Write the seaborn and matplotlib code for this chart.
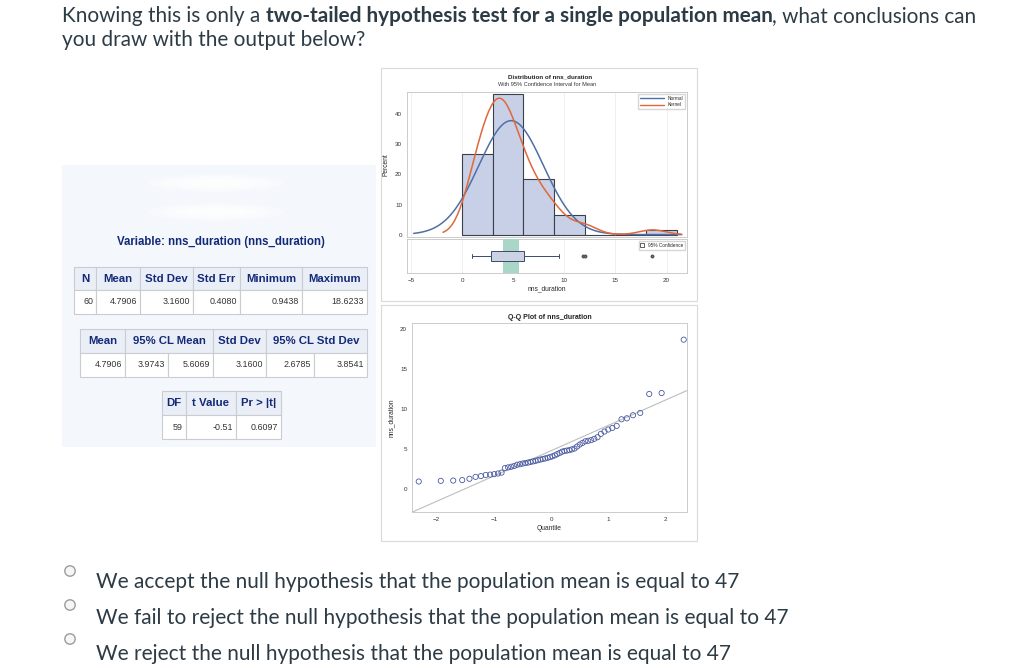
import matplotlib
matplotlib.use("Agg")
import matplotlib.pyplot as plt
from matplotlib.patches import Rectangle, Circle, Ellipse, Patch
from matplotlib.lines import Line2D
import numpy as np
import seaborn as sns
from statistics import NormalDist

# sorted nns_duration values (n = 60)
nns_duration = [
    0.94, 1.02, 1.06, 1.12, 1.28, 1.52, 1.62, 1.76, 1.80, 1.86,
    1.94, 2.05, 2.62, 2.70, 2.78, 2.88, 3.03, 3.10, 3.18, 3.24,
    3.30, 3.38, 3.45, 3.52, 3.60, 3.68, 3.75, 3.82, 3.90, 3.98,
    4.08, 4.20, 4.35, 4.50, 4.65, 4.75, 4.80, 4.85, 4.95, 5.05,
    5.30, 5.55, 5.75, 5.95, 6.02, 6.10, 6.26, 6.46, 6.88, 7.17,
    7.42, 7.62, 7.87, 8.70, 8.82, 9.20, 9.49, 11.85, 11.97, 18.6233,
]
sample_mean = 4.7906
sample_sd = 3.1600
cl_mean_low, cl_mean_high = 3.9743, 5.6069

question_parts = [
    ("Knowing this is only a ", "normal"),
    ("two-tailed hypothesis test for a single population mean", "bold"),
    (", what conclusions can", "normal"),
]
question_line2 = "you draw with the output below?"
answers = [
    "We accept the null hypothesis that the population mean is equal to 47",
    "We fail to reject the null hypothesis that the population mean is equal to 47",
    "We reject the null hypothesis that the population mean is equal to 47",
]

variable_title = "Variable: nns_duration (nns_duration)"
t1_header = [("N", 1), ("Mean", 1), ("Std Dev", 1), ("Std Err", 1), ("Minimum", 1), ("Maximum", 1)]
t1_values = ["60", "4.7906", "3.1600", "0.4080", "0.9438", "18.6233"]
t2_header = [("Mean", 1), ("95% CL Mean", 2), ("Std Dev", 1), ("95% CL Std Dev", 2)]
t2_values = ["4.7906", "3.9743", "5.6069", "3.1600", "2.6785", "3.8541"]
t3_header = [("DF", 1), ("t Value", 1), ("Pr > |t|", 1)]
t3_values = ["59", "-0.51", "0.6097"]

W, H = 1024, 670
TEXT_DARK = "#2d3b45"
NAVY = "#142a78"
BAR = "#c7d0e6"
BLUE = "#4f6fa6"
ORANGE = "#e2673a"
GREEN = "#a9d6c6"
SPINE = "#c4c4c4"


def frac(x0, y0, x1, y1):
    return [x0 / W, 1 - y1 / H, (x1 - x0) / W, (y1 - y0) / H]


sns.set_theme(style="white")
plt.rcParams["font.family"] = ["Liberation Sans", "DejaVu Sans"]

fig = plt.figure(figsize=(W / 100, H / 100), dpi=100)
bg = fig.add_axes([0, 0, 1, 1])
bg.set_xlim(0, W)
bg.set_ylim(H, 0)
bg.axis("off")

# question text with a bold middle part
renderer = fig.canvas.get_renderer()
x = 62
for part, weight in question_parts:
    t = bg.text(x, 22.5, part, family=["Lato", "DejaVu Sans"], fontsize=14.95,
                weight=weight, color=TEXT_DARK, va="baseline", ha="left")
    x += t.get_window_extent(renderer).width
bg.text(62, 46, question_line2, family=["Lato", "DejaVu Sans"], fontsize=14.95,
        color=TEXT_DARK, va="baseline")

# SAS table panel
bg.add_patch(Rectangle((62, 165), 314, 282, fc="#f4f7fb", ec="none"))
for cy in (183, 212):
    for k in (1.0, 0.8, 0.6, 0.45):
        bg.add_patch(Ellipse((216, cy), 135 * k, 18 * k, fc="white", ec="none", alpha=0.35))
bg.text(221, 242.5, variable_title, fontsize=8.3, weight="bold", color=NAVY,
        ha="center", va="center")


def draw_table(edges, top, row_h, header, values):
    c = 0
    for label, span in header:
        x0, x1 = edges[c], edges[c + span]
        bg.add_patch(Rectangle((x0, top), x1 - x0, row_h, fc="#eaeef6", ec="#c9ccd3", lw=0.8))
        bg.text((x0 + x1) / 2, top + row_h / 2, label, fontsize=8.2, weight="bold",
                color=NAVY, ha="center", va="center")
        c += span
    for i, val in enumerate(values):
        x0, x1 = edges[i], edges[i + 1]
        bg.add_patch(Rectangle((x0, top + row_h), x1 - x0, row_h, fc="white", ec="#c9ccd3", lw=0.8))
        bg.text(x1 - 3, top + row_h * 1.5, val, fontsize=6.4, color="#333333",
                ha="right", va="center")


draw_table([74, 96, 140, 193, 240, 302, 367], 267, 23.3, t1_header, t1_values)
draw_table([80, 125, 168, 213, 266, 314, 367], 328.5, 24, t2_header, t2_values)
draw_table([162, 186, 236, 281], 391, 24, t3_header, t3_values)

# frames around the two SAS graphs
bg.add_patch(Rectangle((381, 68), 316, 233, fc="white", ec="#dadada", lw=0.8))
bg.add_patch(Rectangle((381, 305), 316, 236, fc="white", ec="#dadada", lw=0.8))

# answer options
for i, ans in enumerate(answers):
    bg.add_patch(Circle((70, 571 + i * 34), 5.2, fc="#f6f6f6", ec="#9c9c9c", lw=1.0))
    bg.text(96, 588.5 + i * 36, ans, family=["Lato", "DejaVu Sans"], fontsize=15.0,
            color=TEXT_DARK, va="baseline")

small = 4.5


def style_axes(ax):
    for s in ax.spines.values():
        s.set_color(SPINE)
        s.set_linewidth(0.6)
    ax.tick_params(labelsize=small, colors="#333333", length=2, width=0.5, pad=1.5)


# histogram panel
hist_ax = fig.add_axes(frac(407, 92, 687, 237))
box_ax = fig.add_axes(frac(407, 239, 687, 273), sharex=hist_ax)

sns.histplot(x=nns_duration, bins=np.arange(0, 22, 3), stat="percent", kde=True,
             kde_kws={"bw_adjust": 0.92, "cut": 2.2}, color=BAR, alpha=1,
             edgecolor="#3a3f4a", linewidth=0.8, ax=hist_ax, zorder=2)
kde_line = hist_ax.lines[0]
kde_line.set_color(ORANGE)
kde_line.set_linewidth(1.1)
kde_line.set_zorder(4)

fit = NormalDist(sample_mean, sample_sd)
xs = np.linspace(-4.75, 21.5, 300)
sns.lineplot(x=xs, y=[fit.pdf(v) * 300 for v in xs], color=BLUE, linewidth=1.1,
             ax=hist_ax, zorder=3)

hist_ax.set_xlim(-5.4, 22.0)
hist_ax.set_ylim(-0.8, 47.4)
hist_ax.set_yticks([0, 10, 20, 30, 40])
hist_ax.set_ylabel("Percent", fontsize=4.8, labelpad=4)
hist_ax.set_xlabel("")
hist_ax.grid(axis="x", color="#ececec", lw=0.6, zorder=0)
hist_ax.set_axisbelow(True)
style_axes(hist_ax)
hist_ax.tick_params(axis="x", labelbottom=False, length=0)
hist_ax.legend(handles=[Line2D([], [], color=BLUE, lw=1), Line2D([], [], color=ORANGE, lw=1)],
               labels=["Normal", "Kernel"], loc="upper right", fontsize=3.4, frameon=True,
               fancybox=False, edgecolor="#cccccc", handlelength=5, borderpad=0.4,
               labelspacing=0.3, borderaxespad=0.4)

box_ax.axvspan(cl_mean_low, cl_mean_high, color=GREEN, zorder=1, lw=0)
sns.boxplot(x=nns_duration, ax=box_ax, width=0.32, color=BAR, linecolor="#3d4a6b",
            linewidth=0.7, showmeans=True, whis=1.5,
            meanprops=dict(marker="D", mfc="none", mec="#3a50a0", ms=3.2, mew=0.7),
            flierprops=dict(marker="o", ms=1.8, mfc="#777777", mec="#555555"))
for p in box_ax.patches:
    p.set_zorder(3)
box_ax.set_ylim(0.55, -0.55)
box_ax.set_yticks([])
box_ax.set_xticks([-5, 0, 5, 10, 15, 20])
box_ax.set_xlabel("nns_duration", fontsize=4.8, labelpad=2)
box_ax.grid(axis="x", color="#ececec", lw=0.6, zorder=0)
box_ax.set_axisbelow(True)
style_axes(box_ax)
box_ax.legend(handles=[Patch(fc="white", ec="#444444", lw=0.6)], labels=["95% Confidence"],
              loc="upper right", fontsize=3.4, frameon=True, fancybox=False,
              edgecolor="#cccccc", handlelength=0.8, handleheight=0.8, borderpad=0.4,
              borderaxespad=0.4)

fig.text(550 / W, 1 - 77 / H, "Distribution of nns_duration", fontsize=4.5, weight="bold",
         ha="center", va="center", color="#222222")
fig.text(547 / W, 1 - 84.5 / H, "With 95% Confidence Interval for Mean", fontsize=4.1,
         ha="center", va="center", color="#333333")

# Q-Q panel
qq_ax = fig.add_axes(frac(412, 323, 687, 512))
n = len(nns_duration)
quantiles = [NormalDist().inv_cdf((i + 1 - 0.375) / (n + 0.25)) for i in range(n)]
qq_ax.axline((0, sample_mean), slope=sample_sd, color="#bdbdbd", lw=0.8, zorder=1)
sns.scatterplot(x=quantiles, y=sorted(nns_duration), ax=qq_ax, marker="o", s=14,
                facecolor="none", edgecolor="#4a5aa0", linewidth=0.6, zorder=2)
qq_ax.set_xlim(-2.43, 2.37)
qq_ax.set_ylim(-2.86, 20.7)
qq_ax.set_xticks([-2, -1, 0, 1, 2])
qq_ax.set_yticks([0, 5, 10, 15, 20])
qq_ax.set_xlabel("Quantile", fontsize=4.8, labelpad=2)
qq_ax.set_ylabel("nns_duration", fontsize=4.8, labelpad=4)
style_axes(qq_ax)
fig.text(550 / W, 1 - 317 / H, "Q-Q Plot of nns_duration", fontsize=5.0, weight="bold",
         ha="center", va="center", color="#222222")

fig.savefig("out.png", dpi=100)
